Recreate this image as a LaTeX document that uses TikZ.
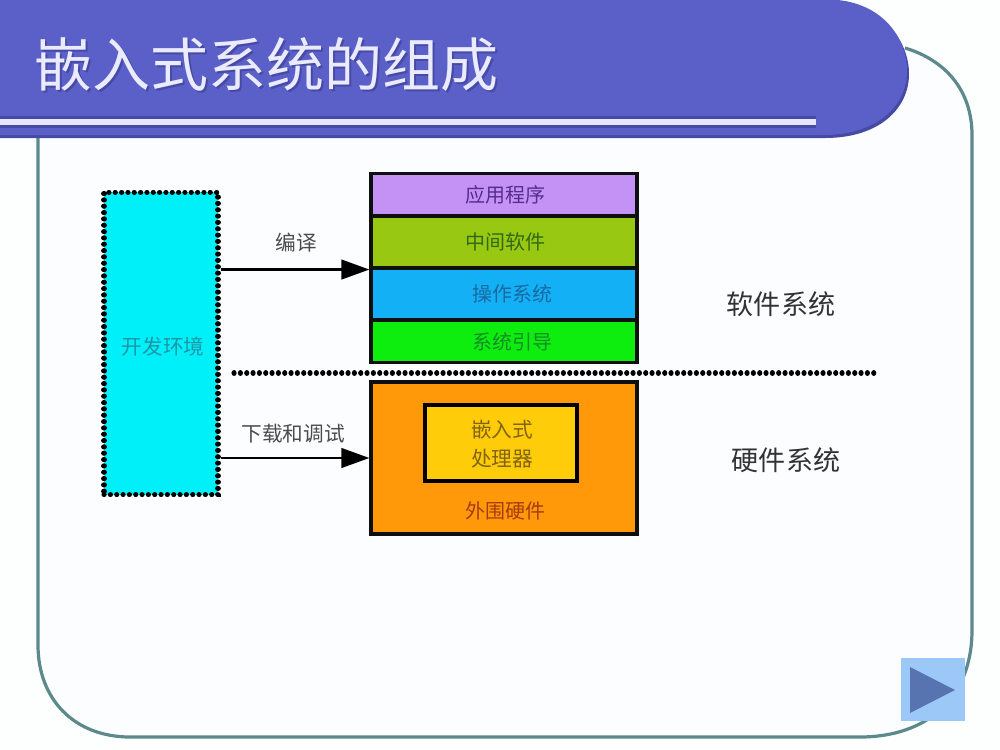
\documentclass[tikz,border=0pt]{standalone}
\usepackage{fontspec}
\usepackage{xcolor}
\setmainfont{Noto Sans CJK SC}
\usetikzlibrary{arrows.meta}
\definecolor{bannerblue}{RGB}{91,96,200}
\definecolor{bannerdark}{RGB}{70,74,165}
\definecolor{frameteal}{RGB}{92,138,140}
\definecolor{pagewhite}{RGB}{253,254,254}
\definecolor{framewhite}{RGB}{252,253,254}
\definecolor{devcyan}{RGB}{0,240,250}
\tikzset{
  layerbox/.style={draw={rgb,255:red,15;green,15;blue,15},line width=2.3pt,minimum width=199.5pt,inner sep=0pt,font=\fontsize{15}{16}\selectfont},
  flowarrow/.style={draw=black,line width=2.2pt,-{Triangle[length=21pt,width=14.5pt]}},
  flowlabel/.style={inner sep=0.75pt,text=black!70,font=\fontsize{15.5}{17}\selectfont},
  sidelabel/.style={inner sep=0.75pt,text=black!80,font=\fontsize{20.3}{22}\selectfont},
  dotline/.style={line width=3.8pt,line cap=round,dash pattern=on 0.1pt off 4.65pt}
}
\begin{document}
\begin{tikzpicture}[x=0.75pt,y=0.75pt,yscale=-1,xscale=1]
\useasboundingbox (0,0) rectangle (1000,750);
\fill[pagewhite] (0,0) rectangle (1000,750);

% frame
\draw [color=frameteal,line width=2.4pt,fill=framewhite]  (38,130) -- (38,645) .. controls (38,700) and (75,737) .. (130,737) -- (860,737) .. controls (925,737) and (972,700) .. (972,630) -- (972,135) .. controls (972,90) and (945,60) .. (905,48) ;

% banner
\fill [bannerdark] (0,3) -- (840,3) .. controls (885,8) and (909,42) .. (909,74) .. controls (909,108) and (880,138) .. (825,138) -- (0,138) -- cycle ;
\fill [bannerblue] (0,0) -- (838,0) .. controls (885,5) and (907,40) .. (907,71) .. controls (907,105) and (878,135) .. (823,135) -- (0,135) -- cycle ;
\fill [bannerdark] (0,116) rectangle (816,128) ;
\fill [white!90!blue] (0,119) rectangle (816,125) ;

% title
\node [anchor=west,inner sep=0pt,text=bannerdark,font=\fontsize{43.5}{45}\selectfont] (titleshadow) at (36,67) {嵌入式系统的组成};
\node [anchor=west,inner sep=0pt,text=white!92!blue,font=\fontsize{43.5}{45}\selectfont] (titletext) at (34,65) {嵌入式系统的组成};

% development environment
\node [draw=black,dotline,fill=devcyan,minimum width=85.5pt,minimum height=227pt,inner sep=0pt] (devenv) at (161,343.5) {};
\node [text={rgb,255:red,30;green,150;blue,165},font=\fontsize{15.5}{17}\selectfont,inner sep=0.75pt] (devtext) at (163,347) {开发环境};

% software layers
\node [layerbox,fill={rgb,255:red,196;green,146;blue,244},text={rgb,255:red,85;green,45;blue,140},minimum height=32pt] (appsw) at (504,194.5) {\hspace*{2pt}应用程序};
\node [layerbox,fill={rgb,255:red,152;green,200;blue,18},text={rgb,255:red,50;green,105;blue,20},minimum height=39pt] (midsw) at (504,242) {\hspace*{2pt}中间软件};
\node [layerbox,fill={rgb,255:red,20;green,176;blue,245},text={rgb,255:red,25;green,105;blue,160},minimum height=39pt] (ossw) at (504,294) {\hspace*{13pt}操作系统};
\node [layerbox,fill={rgb,255:red,14;green,238;blue,14},text={rgb,255:red,20;green,140;blue,40},minimum height=32pt] (bootsw) at (504,341.5) {\hspace*{13pt}系统引导};

% hardware
\node [layerbox,fill={rgb,255:red,255;green,153;blue,10},minimum height=114pt] (periph) at (504,458) {};
\node [draw=black,line width=2.3pt,fill={rgb,255:red,255;green,204;blue,10},minimum width=114pt,minimum height=57pt,inner sep=0pt] (cpu) at (501,443) {};
\node [inner sep=0.75pt,align=center,text={rgb,255:red,130;green,100;blue,20},font=\fontsize{15.5}{21.7}\selectfont] (cputext) at (502,444.5) {嵌入式\\处理器};
\node [inner sep=0.75pt,text={rgb,255:red,165;green,60;blue,15},font=\fontsize{15}{16}\selectfont] (periphtext) at (505,511) {外围硬件};

% separator
\coordinate (sepleft) at (234,373);
\coordinate (sepright) at (876,373);
\draw [dotline] (sepleft) -- (sepright) ;

% arrows
\draw [flowarrow] (devenv.east |- midsw.south) -- (midsw.south west) ;
\draw [flowarrow] (devenv.east |- periph.west) -- (periph.west) ;

% labels
\node [flowlabel] (compilelabel) at (296,243) {编译};
\node [flowlabel] (loadlabel) at (293,434) {下载和调试};
\node [sidelabel] (softlabel) at (781,304) {软件系统};
\node [sidelabel] (hardlabel) at (786,460) {硬件系统};

% next button
\fill [fill={rgb,255:red,156;green,200;blue,248}] (901,658) rectangle (965,721) ;
\fill [fill={rgb,255:red,88;green,116;blue,176}] (910,667) -- (955,690) -- (910,713) -- cycle ;

\end{tikzpicture}
\end{document}
